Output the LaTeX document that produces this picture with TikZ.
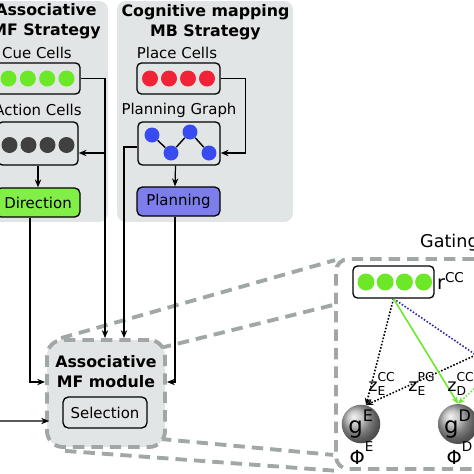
\documentclass[tikz,border=0pt]{standalone}
\usepackage{fontspec}
\setmainfont{DejaVu Sans}
\usepackage{xcolor}
\usetikzlibrary{arrows.meta, positioning, shadings, backgrounds}

\definecolor{panelgray}{RGB}{226,229,229}
\definecolor{zoomgray}{RGB}{160,167,166}
\definecolor{cuegreen}{RGB}{108,232,40}
\definecolor{dirgreen}{RGB}{130,238,72}
\definecolor{placered}{RGB}{240,35,55}
\definecolor{graphblue}{RGB}{55,75,240}
\definecolor{planblue}{RGB}{125,125,235}
\definecolor{cellgray}{RGB}{64,64,64}
\definecolor{navy}{RGB}{40,40,160}

\begin{document}
\begin{tikzpicture}[x=0.02cm, y=-0.02cm,
    panel/.style={rectangle, fill=panelgray, rounded corners=5pt, inner sep=0pt},
    title/.style={font=\fontsize{9}{11.3}\selectfont\bfseries, align=center},
    lbl/.style={font=\fontsize{8.5}{10}\selectfont},
    layer/.style={rectangle, draw, line width=0.75pt, rounded corners=2.5pt, minimum height=0.62cm, inner sep=0pt},
    cell/.style={circle, inner sep=0pt, minimum size=0.32cm},
    outbox/.style={rectangle, draw, line width=0.75pt, rounded corners=3pt, minimum width=1.66cm, minimum height=0.58cm, inner sep=0pt, font=\fontsize{8.5}{10}\selectfont},
    link/.style={-{Stealth[length=4.5pt,width=3.6pt]}, line width=0.7pt},
    zoomline/.style={draw=zoomgray, line width=2.2pt, dash pattern=on 6.5pt off 4pt},
    modbox/.style={rectangle, fill=panelgray, zoomline, rounded corners=9pt, minimum width=2.36cm, minimum height=2.14cm},
    gatebox/.style={rectangle, zoomline, rounded corners=7pt, minimum width=4.48cm, minimum height=4.2cm},
    sphere/.style={circle, inner sep=0pt, minimum size=0.56cm, shading=ball, ball color=gray!60, font=\fontsize{13}{14}\selectfont},
    dotline/.style={line width=0.9pt, dash pattern=on 0.9pt off 1pt},
    gatelink/.style={-{Stealth[length=4pt,width=3.4pt]}}
  ]
    \useasboundingbox (0,0) rectangle (474,474);
    \clip (0,0) rectangle (474,474);

    % Strategy panels
    \node[panel, minimum width=2.56cm, minimum height=4.42cm] (mfpanel) at (44,111.5) {};
    \node[panel, minimum width=3.52cm, minimum height=4.42cm] (mbpanel) at (205,111.5) {};
    \node[title] (mftitle) at (46,21) {Associative\\MF Strategy};
    \node[title] (mbtitle) at (205.5,22) {Cognitive mapping\\MB Strategy};

    % MF strategy
    \node[lbl] (cuelbl) at (37,53) {Cue Cells};
    \node[layer, minimum width=1.7cm] (cue) at (37.5,78.5) {};
    \foreach \i in {0,...,3}
      \node[cell, fill=cuegreen] (cue\i) at (8.5+\i*19.33,78.5) {};
    \node[lbl] (actlbl) at (38,110) {Action Cells};
    \node[layer, minimum width=1.6cm, minimum height=0.86cm] (action) at (38,143.5) {};
    \foreach \i in {0,...,3}
      \node[cell, fill=cellgray] (act\i) at (9.5+\i*19,145) {};
    \node[outbox, fill=dirgreen, minimum width=1.68cm] (dir) at (38,202.5) {Direction};

    % MB strategy
    \node[lbl] (placelbl) at (177,53) {Place Cells};
    \node[layer, minimum width=1.66cm] (place) at (178.5,78.5) {};
    \foreach \i in {0,...,3}
      \node[cell, fill=placered] (place\i) at (150+\i*19,78.5) {};
    \node[lbl] (graphlbl) at (179,110) {Planning Graph};
    \node[layer, minimum width=1.64cm, minimum height=0.86cm] (graph) at (179,143.5) {};
    \foreach \n/\x/\y in {1/152/135, 2/171/153, 3/190/132, 4/209/153}
      \node[cell, fill=graphblue, minimum size=0.3cm] (pg\n) at (\x,\y) {};
    \draw[line width=0.8pt] (pg1) -- (pg2) -- (pg3) -- (pg4);
    \node[outbox, fill=planblue] (plan) at (178.5,201.5) {Planning};

    % Associative MF module
    \node[modbox] (mod) at (106,393.5) {};
    \node[title] (modtitle) at (106,372) {Associative\\MF module};
    \node[outbox, fill=panelgray, minimum width=1.68cm, minimum height=0.62cm] (sel) at (105,412.5) {Selection};

    % Gating (zoomed)
    \node[gatebox] (gate) at (448,364) {};
    \node[font=\fontsize{10}{12}\selectfont, anchor=west] (gatelbl) at (414,243) {Gating};

    % zoom lines
    \begin{pgfonlayer}{background}
      \draw[zoomline] ([shift={(16,0)}]mod.north west) -- ([shift={(1,3)}]gate.north west);
      \draw[zoomline] ([shift={(-7,10)}]mod.north east) -- ([shift={(-1,-59)}]gate.west);
      \draw[zoomline] ([shift={(-7,-10)}]mod.south east) -- ([shift={(-1,-16)}]gate.south west);
      \draw[zoomline] ([shift={(20,2)}]mod.south west) -- ([shift={(4,0)}]gate.south west);
    \end{pgfonlayer}

    % connections
    \coordinate (split) at (105,153);
    \coordinate (ext) at (-2,421);
    \draw[link] (cue.east) -| ([shift={(-1,0)}]mod.north);
    \draw[link] (split) -- (split -| action.east);
    \draw[link] (action.south) -- (dir.north);
    \draw[link] ([shift={(-8,0)}]dir.south) |- ([shift={(0,-11.5)}]mod.west);
    \draw[link] (ext) -- ([shift={(4,27.5)}]mod.west);
    \draw[link] ([shift={(0,3.5)}]graph.west) -| ([shift={(18,0)}]mod.north);
    \draw[link] (place.east) -- ++(25,0) |- ([shift={(0,9.5)}]graph.east);
    \draw[link] ([shift={(-3.5,0)}]graph.south) -- ([shift={(-3.5,0)}]plan.north);
    \draw[link] ([shift={(-3.5,0)}]plan.south) |- ([shift={(0,-11.5)}]mod.east);

    % gating contents
    \node[layer, fill=white, minimum width=1.62cm, minimum height=0.64cm] (rcc) at (393.5,282) {};
    \foreach \i in {0,...,3}
      \node[cell, fill=cuegreen, minimum size=0.34cm] (rc\i) at (366+\i*19.2,282) {};
    \node[anchor=west, inner sep=1pt, font=\fontsize{11}{12}\selectfont] (rcclbl) at (435,281) {r\textsuperscript{CC}};

    \node[sphere] (gE) at (361,424) {$\mathrm{g}^{\mathrm{E}}$};
    \node[sphere] (gD) at (458,424) {$\mathrm{g}^{\mathrm{D}}$};
    \node[font=\fontsize{11}{12}\selectfont] (phiE) at (362,453) {Φ$^{\mathrm{E}}$};
    \node[font=\fontsize{11}{12}\selectfont] (phiD) at (460,453) {Φ$^{\mathrm{D}}$};

    \coordinate (pgin) at (476,355);
    \coordinate (pdin) at (489,375);
    \draw[dotline, draw=navy] (rcc.south) -- (pgin);
    \draw[dotline, gatelink] (rcc.south) -- (gE.75);
    \draw[dotline, gatelink] (pgin) -- (gE.75);
    \draw[line width=0.9pt, draw=cuegreen, gatelink] (rcc.south) -- (gD.north);
    \draw[dotline, draw=cuegreen, gatelink] (pdin) -- (gD.north);

    \node[font=\fontsize{10}{11}\selectfont] (zcce) at (382,384) {$\mathrm{z}^{\mathrm{CC}}_{\mathrm{E}}$};
    \node[font=\fontsize{10}{11}\selectfont] (zpge) at (422,384) {$\mathrm{z}^{\mathrm{PG}}_{\mathrm{E}}$};
    \node[font=\fontsize{10}{11}\selectfont] (zccd) at (461,384) {$\mathrm{z}^{\mathrm{CC}}_{\mathrm{D}}$};
\end{tikzpicture}
\end{document}
